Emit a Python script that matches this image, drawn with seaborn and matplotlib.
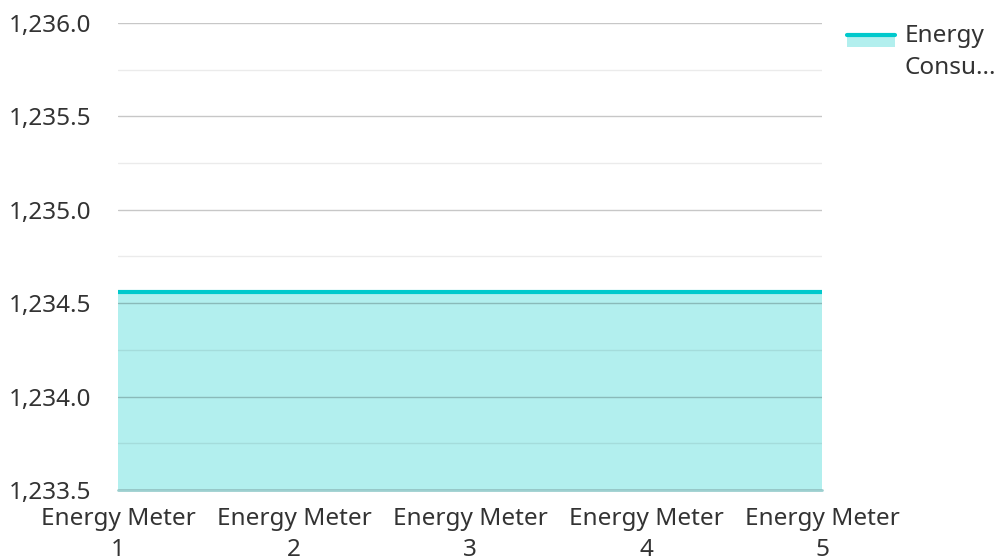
import matplotlib
matplotlib.use("Agg")
import matplotlib.pyplot as plt
import seaborn as sns
import pandas as pd
from matplotlib.ticker import MultipleLocator, FuncFormatter
from matplotlib.lines import Line2D

categories = ["Energy Meter\n1", "Energy Meter\n2", "Energy Meter\n3", "Energy Meter\n4", "Energy Meter\n5"]
values = [1234.56, 1234.56, 1234.56, 1234.56, 1234.56]
series_name = "Energy Consumption"

sns.set_style("white")
plt.rcParams['font.family'] = ['Noto Sans', 'DejaVu Sans']

df = pd.DataFrame({"x": range(len(categories)), "y": values})
fig = plt.figure(figsize=(10, 5.6), dpi=100)
ax = fig.add_axes([0.118, 0.125, 0.704, 0.834])

line_color = "#00C9CC"
fill_color = "#B2EFEE"
ymin, ymax = 1233.5, 1236.0
ax.fill_between(df["x"], ymin, df["y"], color=fill_color, zorder=1, linewidth=0)
sns.lineplot(data=df, x="x", y="y", ax=ax, color=line_color, linewidth=3, zorder=3)

ax.set_xlim(0, len(categories) - 1)
ax.set_ylim(ymin, ymax)
ax.yaxis.set_major_locator(MultipleLocator(0.5))
ax.yaxis.set_minor_locator(MultipleLocator(0.25))
ax.yaxis.set_major_formatter(FuncFormatter(lambda v, p: f"{v:,.1f}"))
ax.grid(axis="y", which="major", color="#000000", alpha=0.22, linewidth=1, zorder=2)
ax.grid(axis="y", which="minor", color="#000000", alpha=0.08, linewidth=1, zorder=2)
ax.axhline(ymin, color="#9CCFCF", linewidth=2, zorder=2, clip_on=False)
ax.set_axisbelow(False)
for s in ax.spines.values():
    s.set_visible(False)
ax.set_xticks(range(len(categories)))
ax.set_xticklabels(categories, linespacing=1.4)
ax.tick_params(axis="both", which="both", length=0, labelsize=17.5, labelcolor="#333333")
ax.tick_params(axis="x", pad=12)
ax.tick_params(axis="y", pad=19)
ax.set_xlabel("")
ax.set_ylabel("")

# legend
fig.patches.append(plt.Rectangle((0.847, 0.916), 0.048, 0.022,
                   transform=fig.transFigure, facecolor=fill_color, edgecolor="none"))
fig.lines.append(Line2D([0.847, 0.895], [0.937, 0.937], transform=fig.transFigure,
                        color=line_color, linewidth=3))
fig.text(0.905, 0.958, "Energy\nConsu...", fontsize=17.5, color="#333333",
         va="top", ha="left", linespacing=1.45, transform=fig.transFigure)

fig.savefig("out.png", dpi=100)
